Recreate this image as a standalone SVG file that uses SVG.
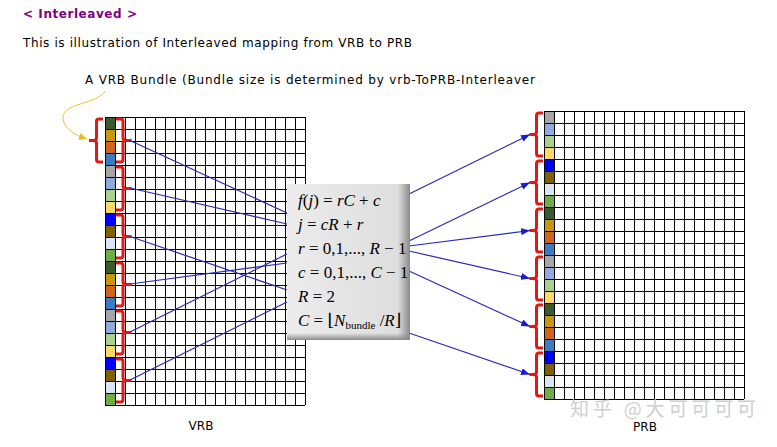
<svg xmlns="http://www.w3.org/2000/svg" width="777" height="447" viewBox="0 0 777 447">
<style>
.t{font-family:"DejaVu Sans","Liberation Sans",sans-serif;font-size:12px;fill:#000}
.ttl{font-family:"DejaVu Sans","Liberation Sans",sans-serif;font-size:12px;font-weight:bold;fill:#800080}
.grid{fill:none;stroke:#000;stroke-width:1;shape-rendering:crispEdges}
.brace{fill:none;stroke:#e01818;stroke-width:3;stroke-linejoin:round}
.conn{fill:none;stroke:#2a2ab8;stroke-width:1.2}
.arr{marker-end:url(#ah)}
.m{font-family:"Liberation Serif","DejaVu Serif",serif;font-size:17px;fill:#000}
.i{font-style:italic}
.c1{fill:#3b5a2b}.c2{fill:#c9960f}.c3{fill:#d2651e}.c4{fill:#3a7dc2}
.c5{fill:#a6a6a6}.c6{fill:#8faadc}.c7{fill:#a9d08e}.c8{fill:#ffd966}
.c9{fill:#0000ff}.c10{fill:#7f6000}.c11{fill:#dae6f4}.c12{fill:#70ad47}
</style>
<defs>
<marker id="ah" markerUnits="userSpaceOnUse" markerWidth="9" markerHeight="7" refX="9" refY="3.5" orient="auto">
<path d="M0,0 L9,3.5 L0,7 z" fill="#1a1ad0"/>
</marker>
<marker id="yah" markerUnits="userSpaceOnUse" markerWidth="8" markerHeight="7" refX="8" refY="3.5" orient="auto">
<path d="M0,0 L8,3.5 L0,7 z" fill="#f0b820"/>
</marker>
<linearGradient id="boxg" x1="0" y1="0" x2="1" y2="0">
<stop offset="0" stop-color="#ececec"/>
<stop offset="0.9" stop-color="#dedede"/>
<stop offset="0.93" stop-color="#c6c6c6"/>
<stop offset="1" stop-color="#8a8a8a"/>
</linearGradient>
<linearGradient id="boxb" x1="0" y1="0" x2="0" y2="1">
<stop offset="0" stop-color="#8a8a8a" stop-opacity="0"/>
<stop offset="1" stop-color="#8a8a8a" stop-opacity="1"/>
</linearGradient>
</defs>
<rect width="777" height="447" fill="#fff"/>

<g id="header">
<text class="ttl" x="23" y="18" textLength="114">&lt; Interleaved &gt;</text>
<text class="t" x="23" y="47" textLength="389">This is illustration of Interleaved mapping from VRB to PRB</text>
<text class="t" x="85" y="84" textLength="450">A VRB Bundle (Bundle size is determined by vrb-ToPRB-Interleaver</text>
</g>

<g id="vrb">
<g>
<rect class="c1" x="105" y="117" width="10" height="12"/><rect class="c2" x="105" y="129" width="10" height="12"/><rect class="c3" x="105" y="141" width="10" height="12"/><rect class="c4" x="105" y="153" width="10" height="12"/>
<rect class="c5" x="105" y="165" width="10" height="12"/><rect class="c6" x="105" y="177" width="10" height="12"/><rect class="c7" x="105" y="189" width="10" height="12"/><rect class="c8" x="105" y="201" width="10" height="12"/>
<rect class="c9" x="105" y="213" width="10" height="12"/><rect class="c10" x="105" y="225" width="10" height="12"/><rect class="c11" x="105" y="237" width="10" height="12"/><rect class="c12" x="105" y="249" width="10" height="12"/>
<rect class="c1" x="105" y="261" width="10" height="12"/><rect class="c2" x="105" y="273" width="10" height="12"/><rect class="c3" x="105" y="285" width="10" height="12"/><rect class="c4" x="105" y="297" width="10" height="12"/>
<rect class="c5" x="105" y="309" width="10" height="12"/><rect class="c6" x="105" y="321" width="10" height="12"/><rect class="c7" x="105" y="333" width="10" height="12"/><rect class="c8" x="105" y="345" width="10" height="12"/>
<rect class="c9" x="105" y="357" width="10" height="12"/><rect class="c10" x="105" y="369" width="10" height="12"/><rect class="c11" x="105" y="381" width="10" height="12"/><rect class="c12" x="105" y="393" width="10" height="12"/>
</g>
<path class="grid" d="M105 117V405M115 117V405M125 117V405M135 117V405M145 117V405M155 117V405M165 117V405M175 117V405M185 117V405M195 117V405M205 117V405M215 117V405M225 117V405M235 117V405M245 117V405M255 117V405M265 117V405M275 117V405M285 117V405M295 117V405M305 117V405
M105 117H305M105 129H305M105 141H305M105 153H305M105 165H305M105 177H305M105 189H305M105 201H305M105 213H305M105 225H305M105 237H305M105 249H305M105 261H305M105 273H305M105 285H305M105 297H305M105 309H305M105 321H305M105 333H305M105 345H305M105 357H305M105 369H305M105 381H305M105 393H305M105 405H305"/>
<path class="brace" d="M103 119H99Q96.5 119 96.5 121.5V138Q96.5 140.5 93.5 140.5H89M93.5 140.5Q96.5 140.5 96.5 143V159.5Q96.5 162 99 162H103"/>
<path class="brace" d="M116 119H120.5Q123 119 123 121.5V138Q123 140.5 126 140.5H131.5M126 140.5Q123 140.5 123 143V159.5Q123 162 120.5 162H116"/>
<path class="brace" d="M116 167H120.5Q123 167 123 169.5V186Q123 188.5 126 188.5H131.5M126 188.5Q123 188.5 123 191V207.5Q123 210 120.5 210H116"/>
<path class="brace" d="M116 215H120.5Q123 215 123 217.5V234Q123 236.5 126 236.5H131.5M126 236.5Q123 236.5 123 239V255.5Q123 258 120.5 258H116"/>
<path class="brace" d="M116 263H120.5Q123 263 123 265.5V282Q123 284.5 126 284.5H131.5M126 284.5Q123 284.5 123 287V303.5Q123 306 120.5 306H116"/>
<path class="brace" d="M116 311H120.5Q123 311 123 313.5V330Q123 332.5 126 332.5H131.5M126 332.5Q123 332.5 123 335V351.5Q123 354 120.5 354H116"/>
<path class="brace" d="M116 359H120.5Q123 359 123 361.5V378Q123 380.5 126 380.5H131.5M126 380.5Q123 380.5 123 383V399.5Q123 402 120.5 402H116"/>
<text class="t" x="201" y="430" text-anchor="middle">VRB</text>
</g>

<g id="prb">
<g>
<rect class="c5" x="544" y="111" width="10" height="12"/><rect class="c6" x="544" y="123" width="10" height="12"/><rect class="c7" x="544" y="135" width="10" height="12"/><rect class="c8" x="544" y="147" width="10" height="12"/>
<rect class="c9" x="544" y="159" width="10" height="12"/><rect class="c10" x="544" y="171" width="10" height="12"/><rect class="c11" x="544" y="183" width="10" height="12"/><rect class="c12" x="544" y="195" width="10" height="12"/>
<rect class="c1" x="544" y="207" width="10" height="12"/><rect class="c2" x="544" y="219" width="10" height="12"/><rect class="c3" x="544" y="231" width="10" height="12"/><rect class="c4" x="544" y="243" width="10" height="12"/>
<rect class="c5" x="544" y="255" width="10" height="12"/><rect class="c6" x="544" y="267" width="10" height="12"/><rect class="c7" x="544" y="279" width="10" height="12"/><rect class="c8" x="544" y="291" width="10" height="12"/>
<rect class="c1" x="544" y="303" width="10" height="12"/><rect class="c2" x="544" y="315" width="10" height="12"/><rect class="c3" x="544" y="327" width="10" height="12"/><rect class="c4" x="544" y="339" width="10" height="12"/>
<rect class="c9" x="544" y="351" width="10" height="12"/><rect class="c10" x="544" y="363" width="10" height="12"/><rect class="c11" x="544" y="375" width="10" height="12"/><rect class="c12" x="544" y="387" width="10" height="12"/>
</g>
<path class="grid" d="M544 111V399M554 111V399M564 111V399M574 111V399M584 111V399M594 111V399M604 111V399M614 111V399M624 111V399M634 111V399M644 111V399M654 111V399M664 111V399M674 111V399M684 111V399M694 111V399M704 111V399M714 111V399M724 111V399M734 111V399M744 111V399
M544 111H744M544 123H744M544 135H744M544 147H744M544 159H744M544 171H744M544 183H744M544 195H744M544 207H744M544 219H744M544 231H744M544 243H744M544 255H744M544 267H744M544 279H744M544 291H744M544 303H744M544 315H744M544 327H744M544 339H744M544 351H744M544 363H744M544 375H744M544 387H744M544 399H744"/>
<path class="brace" d="M543 113H539Q536.5 113 536.5 115.5V132Q536.5 134.5 533.5 134.5H529.5M533.5 134.5Q536.5 134.5 536.5 137V153.5Q536.5 156 539 156H543"/>
<path class="brace" d="M543 161H539Q536.5 161 536.5 163.5V180Q536.5 182.5 533.5 182.5H529.5M533.5 182.5Q536.5 182.5 536.5 185V201.5Q536.5 204 539 204H543"/>
<path class="brace" d="M543 209H539Q536.5 209 536.5 211.5V228Q536.5 230.5 533.5 230.5H529.5M533.5 230.5Q536.5 230.5 536.5 233V249.5Q536.5 252 539 252H543"/>
<path class="brace" d="M543 257H539Q536.5 257 536.5 259.5V276Q536.5 278.5 533.5 278.5H529.5M533.5 278.5Q536.5 278.5 536.5 281V297.5Q536.5 300 539 300H543"/>
<path class="brace" d="M543 305H539Q536.5 305 536.5 307.5V324Q536.5 326.5 533.5 326.5H529.5M533.5 326.5Q536.5 326.5 536.5 329V345.5Q536.5 348 539 348H543"/>
<path class="brace" d="M543 353H539Q536.5 353 536.5 355.5V372Q536.5 374.5 533.5 374.5H529.5M533.5 374.5Q536.5 374.5 536.5 377V393.5Q536.5 396 539 396H543"/>
<text x="663" y="416" text-anchor="middle" font-family="'Noto Sans CJK SC',sans-serif" font-size="19" fill="#cfcfcf" textLength="186">知乎 @大可可可可</text>
<text class="t" x="645" y="431" text-anchor="middle">PRB</text>
</g>

<g id="connectors">
<path d="M105 91C98 104 63 103 63 117C63 128 74 135 87 139" fill="none" stroke="#f0c030" stroke-width="1" marker-end="url(#yah)"/>
<line class="conn" x1="130" y1="140.5" x2="287" y2="213"/>
<line class="conn" x1="130" y1="188" x2="287" y2="224"/>
<line class="conn" x1="130" y1="236.5" x2="287" y2="290"/>
<line class="conn" x1="130" y1="284" x2="287" y2="263"/>
<line class="conn" x1="130" y1="332" x2="287" y2="254"/>
<line class="conn" x1="130" y1="380" x2="287" y2="302"/>
<line class="conn arr" x1="409" y1="194" x2="530" y2="134.5"/>
<line class="conn arr" x1="409" y1="241" x2="530" y2="182.5"/>
<line class="conn arr" x1="409" y1="246" x2="530" y2="230.5"/>
<line class="conn arr" x1="409" y1="251" x2="530" y2="278.5"/>
<line class="conn arr" x1="409" y1="271" x2="530" y2="326.5"/>
<line class="conn arr" x1="409" y1="333" x2="530" y2="374.5"/>
</g>

<g id="formula-box">
<rect x="287" y="184" width="123" height="156" fill="url(#boxg)"/>
<rect x="287" y="333" width="123" height="7" fill="url(#boxb)"/>
<text class="m" x="298" y="206"><tspan class="i">f</tspan>(<tspan class="i">j</tspan>) = <tspan class="i">rC</tspan> + <tspan class="i">c</tspan></text>
<text class="m" x="298" y="230"><tspan class="i">j</tspan> = <tspan class="i">cR</tspan> + <tspan class="i">r</tspan></text>
<text class="m" x="298" y="254"><tspan class="i">r</tspan> = 0,1,..., <tspan class="i">R</tspan> − 1</text>
<text class="m" x="298" y="278"><tspan class="i">c</tspan> = 0,1,..., <tspan class="i">C</tspan> − 1</text>
<text class="m" x="298" y="302"><tspan class="i">R</tspan> = 2</text>
<text class="m" x="298" y="326"><tspan class="i">C</tspan> = ⌊<tspan class="i">N</tspan><tspan font-size="11" dy="3">bundle</tspan><tspan dy="-3"> /</tspan><tspan class="i">R</tspan>⌋</text>
</g>
</svg>
